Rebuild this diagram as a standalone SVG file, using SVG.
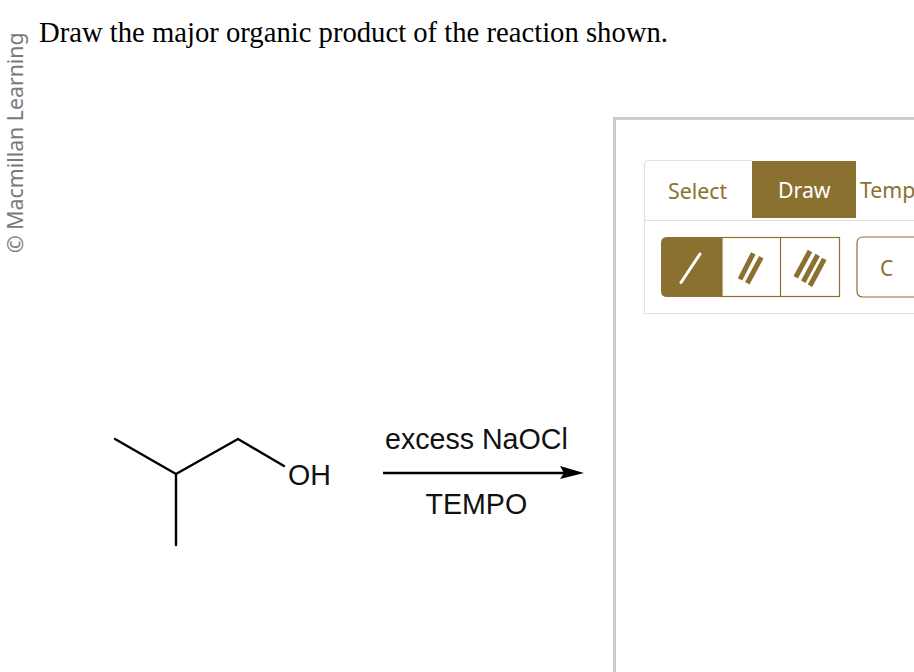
<svg xmlns="http://www.w3.org/2000/svg" width="914" height="672" viewBox="0 0 914 672">
<style>
.ar{font-family:"Liberation Sans",Arial,sans-serif;fill:#111;font-size:28.6px}
.ui{font-family:"Noto Sans","Open Sans",sans-serif;font-size:21.3px;fill:#8b7130}
.bond{stroke:#000;stroke-width:2.4;fill:none;stroke-linecap:round;stroke-linejoin:round}
</style>
<rect width="914" height="672" fill="#fff"/>
<text x="39" y="41.500" font-family="Liberation Serif,serif" font-size="28.66px" fill="#000">Draw the major organic product of the reaction shown.</text>
<text transform="translate(23,253) rotate(-90)" font-family="Noto Sans,sans-serif" font-size="21.3px" fill="#7a7a7a">© Macmillan Learning</text>
<g id="molecule">
<path class="bond" d="M115 439L176 474L238 439L284 466M176 474V545"/>
<text class="ar" x="288" y="485">OH</text>
</g>
<g id="connectors">
<line x1="383" y1="473" x2="565" y2="473" stroke="#000" stroke-width="2.4"/>
<polygon points="560,466 584,473 560,479 564,473" fill="#000"/>
</g>
<g id="reagents">
<text class="ar" x="385" y="449">excess NaOCl</text>
<text class="ar" x="425.500" y="514">TEMPO</text>
</g>
<g id="panel">
<path d="M614.500 672V118.500H914" fill="none" stroke="#ccc" stroke-width="3"/>
</g>
<g id="toolbar">
<path d="M914 220.500H644.500V313.500H914M644.500 220V165Q644.500 160.500 649 160.500H752" fill="none" stroke="#e2e2e2" stroke-width="1.200"/>
<rect x="752" y="161" width="104" height="57" fill="#8b7130"/>
<text class="ui" x="668" y="199">Select</text>
<text class="ui" x="778" y="198" style="fill:#fff">Draw</text>
<text class="ui" x="860" y="198">Temp</text>
<path d="M722 237H667Q661 237 661 243V291Q661 297 667 297H722Z" fill="#8b7130"/>
<rect x="722" y="237.500" width="117.500" height="59" fill="#fff" stroke="#8b7130" stroke-width="1.200"/>
<line x1="780.500" y1="237" x2="780.500" y2="297" stroke="#8b7130" stroke-width="1.200"/>
<line x1="681" y1="282.500" x2="700" y2="254" stroke="#fff" stroke-width="3" stroke-linecap="round"/>
<path d="M740 279.300L753.300 253.300M747.300 283.300L761.300 257.300" stroke="#8b7130" stroke-width="5"/>
<path d="M795.700 277.300L810 251M803.300 281.700L817.700 255M810 285.700L824.300 259" stroke="#8b7130" stroke-width="5"/>
<path d="M914 237H863Q857 237 857 243V291Q857 297 863 297H914" fill="#fff" stroke="#8b7130" stroke-width="1.200"/>
<text class="ui" x="880" y="275.500" style="font-size:21px">C</text>
</g>
</svg>
